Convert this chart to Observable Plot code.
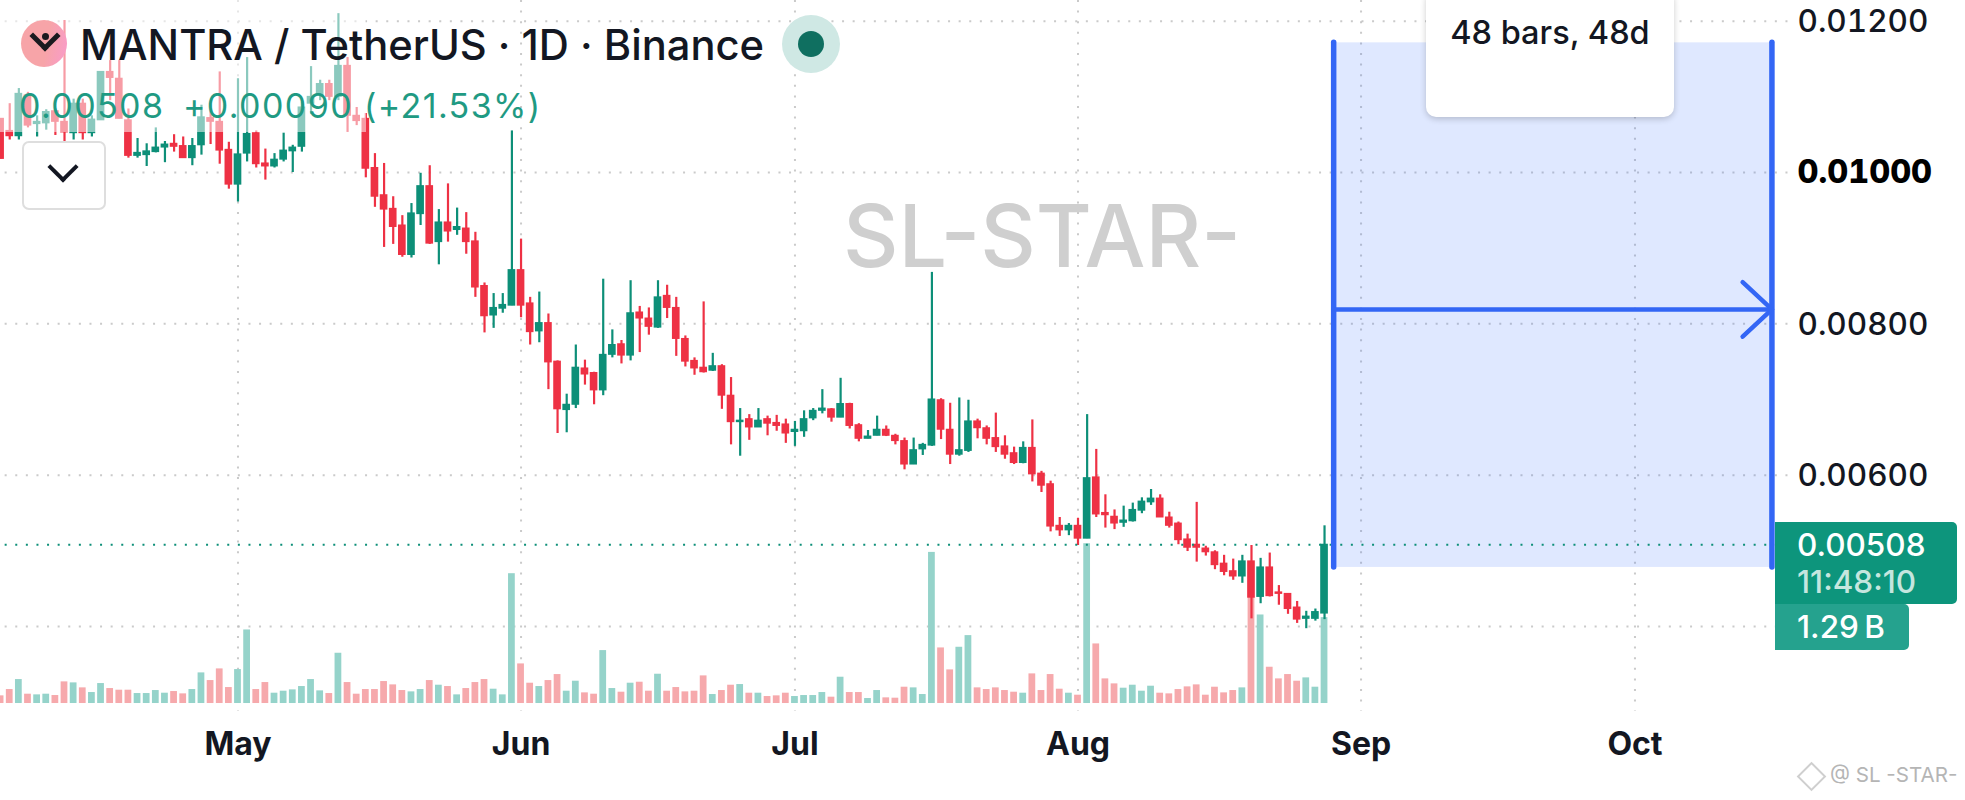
<!DOCTYPE html>
<html>
<head>
<meta charset="utf-8">
<script src="https://cdn.jsdelivr.net/npm/d3@7"></script>
<script src="https://cdn.jsdelivr.net/npm/@observablehq/plot@0.6"></script>
<style>
html,body{margin:0;padding:0;background:#fff}
#stage{position:relative;width:1965px;height:800px;overflow:hidden;font-family:Inter,Roboto,sans-serif;color:#131722}
#stage svg{display:block}
.o{position:absolute;white-space:nowrap}
</style>
</head>
<body>
<div id="stage">
  <div id="chart"></div>
  <div class="o" style="left:0;top:0;width:366px;height:132px;background:rgba(255,255,255,.52)"></div>
  <div class="o" style="left:21px;top:20px;width:46px;height:47px;border-radius:50%;background:linear-gradient(100deg,#f7a4a8 55%,#f99bcb)"></div>
  <div class="o" style="left:34px;top:25px;width:17px;height:17px;border-right:5px solid #1a1a1f;border-bottom:5px solid #1a1a1f;transform:rotate(45deg)"></div>
  <div class="o" style="left:42px;top:33px;width:7px;height:7px;border-radius:50%;background:#1a1a1f"></div>
  <div class="o" style="left:80px;top:21px;font-size:41.7px;line-height:48px;font-weight:500">MANTRA / TetherUS · 1D · Binance</div>
  <div class="o" style="left:782px;top:15px;width:58px;height:58px;border-radius:50%;background:#cfe8e4"></div>
  <div class="o" style="left:798px;top:31px;width:26px;height:26px;border-radius:50%;background:#0f6f60"></div>
  <div class="o" style="left:19px;top:86px;font-size:34px;line-height:40px;font-weight:400;letter-spacing:1.4px;color:#1f9a83">0.00508 &thinsp;+0.00090 (+21.53%)</div>
  <div class="o" style="left:22px;top:141px;width:80px;height:65px;border:2px solid #dedede;border-radius:7px;background:#fff"></div>
  <div class="o" style="left:52px;top:156px;width:18px;height:18px;border-right:4px solid #131722;border-bottom:4px solid #131722;transform:rotate(45deg)"></div>
  <div class="o" style="left:843px;top:190px;font-size:86px;line-height:92px;font-weight:500;color:#cfcfcf">SL-STAR-</div>
  <div class="o" style="left:1426px;top:-10px;width:248px;height:127px;background:#fff;border-radius:10px;box-shadow:0 2px 6px rgba(0,0,0,.2)"></div>
  <div class="o" style="left:1426px;top:15px;width:248px;text-align:center;font-size:32.5px;line-height:36px;font-weight:500">48 bars, 48d</div>
  <div class="o" style="left:1775px;top:522px;width:182px;height:82px;background:#0d957c;border-radius:0 5px 5px 0"></div>
  <div class="o" style="left:1797px;top:526px;font-size:31.5px;line-height:38px;font-weight:500;color:#fff">0.00508</div>
  <div class="o" style="left:1797px;top:563px;font-size:31.5px;line-height:38px;font-weight:500;color:#c5e6df">11:48:10</div>
  <div class="o" style="left:1775px;top:604px;width:134px;height:46px;background:#25a28e;border-radius:0 5px 5px 0"></div>
  <div class="o" style="left:1797px;top:608px;font-size:31.5px;line-height:38px;font-weight:500;color:#fff">1.29&thinsp;B</div>
  <div class="o" style="left:1801px;top:766px;width:17px;height:17px;border:2px solid #cfcfcf;transform:rotate(45deg)"></div>
  <div class="o" style="left:1830px;top:761px;font-size:20.6px;line-height:28px;color:#b5b5b5">@ SL -STAR-</div>
</div>
<script>
// daily candles from 5 Apr to 28 Aug, in units of 0.00001
const firstDay = "2025-04-05";
const openU = [
 1071,1055,1048,1102,1064,1065,1081,1067,1052,1091,1052,1069,1133,1124,1069,1022,1023,1027,1033,1038,1035,1019,1036,1072,1067,1030,
 984,1025,1052,1012,1008,1017,1028,1034,1091,1102,1117,1100,1141,1075,1071,1006,970,952,930,891,945,982,908,934,924,926,909,850,811,820,824,
 871,827,790,801,750,686,693,741,735,712,759,773,758,815,807,795,837,821,780,751,742,738,744,705,670,674,663,674,669,667,
 657,658,675,685,687,676,694,666,648,652,660,652,645,614,634,639,699,660,627,632,671,662,649,638,629,616,636,602,588,533,527,
 533,516,597,550,545,537,539,553,564,569,544,536,515,508,503,498,483,473,466,486,439,478,445,443,425,410,410,417];
const highU = [
 1071,1091,1111,1106,1075,1083,1084,1201,1097,1097,1075,1133,1148,1148,1084,1045,1038,1059,1041,1050,1047,1045,1089,1084,1133,1040,
 1124,1152,1055,1031,1025,1052,1036,1093,1140,1122,1122,1210,1152,1086,1078,1025,1012,968,943,959,999,1009,951,985,953,947,921,854,840,840,1055,
 912,835,842,813,751,707,772,752,736,859,792,778,857,823,821,857,851,835,784,755,829,761,746,729,688,680,688,678,679,674,
 671,685,688,713,688,728,695,668,659,678,665,654,649,649,642,868,701,695,702,699,674,665,682,652,637,644,673,605,592,544,536,
 543,680,634,574,554,559,563,570,581,574,551,538,522,564,506,500,494,489,494,507,490,497,454,443,433,420,423,533];
const lowU = [
 1018,1043,1043,1059,1047,1056,1049,1022,1043,1043,1047,1069,1095,1071,1019,1019,1008,1026,1013,1027,1019,1009,1023,1037,1011,978,
 961,1014,1006,990,1006,1014,1000,1027,1077,1095,1095,1095,1053,1062,993,954,901,905,888,887,930,905,878,908,917,892,835,788,794,814,824,
 808,772,775,713,655,656,688,719,693,705,755,747,751,762,785,794,807,757,743,732,735,737,687,640,625,646,663,652,658,642,
 638,650,672,681,670,676,661,644,648,652,651,640,607,614,626,638,647,614,625,630,648,640,630,621,614,615,591,577,525,519,520,
 507,516,544,530,528,531,538,549,560,544,530,508,499,485,493,475,467,461,457,410,430,439,428,416,404,397,407,409];
const closeU = [
 1018,1048,1104,1062,1067,1080,1067,1053,1091,1052,1070,1133,1125,1071,1022,1026,1028,1033,1037,1034,1019,1035,1073,1067,1029,984,
 1024,1051,1011,1008,1017,1029,1033,1086,1100,1117,1100,1141,1075,1068,1005,968,951,928,891,946,982,906,934,922,928,908,848,810,821,825,871,
 824,789,801,749,687,693,742,733,712,759,772,758,814,807,796,835,821,780,750,741,736,744,705,670,672,663,672,668,665,655,
 660,674,685,688,676,694,665,648,651,660,652,645,614,633,640,700,660,627,633,671,662,648,637,627,616,636,601,586,532,527,533,
 516,596,548,547,536,540,554,565,569,544,533,514,504,504,498,481,472,466,486,438,478,440,443,423,409,413,419,508];
// volume, millions of tokens
const volumeM = [
 115,210,360,140,130,140,120,325,310,235,165,300,225,200,200,150,150,195,155,180,145,210,460,345,520,240,
 510,1105,210,315,155,185,205,255,360,190,150,755,315,140,210,210,330,280,195,175,210,345,275,255,130,225,315,360,215,130,1950,
 595,305,255,345,435,185,335,160,140,795,225,170,305,320,185,440,185,240,175,185,415,135,195,275,285,155,155,105,115,155,
 105,120,120,165,95,395,165,165,75,195,85,80,245,235,135,2270,835,505,845,1020,235,210,235,195,170,155,445,195,435,215,155,
 125,2400,895,370,295,230,275,185,260,155,145,210,250,280,125,245,160,195,235,1595,1330,545,370,435,335,385,245,1290];

const monthTicks = ["2025-05-01","2025-06-01","2025-07-01","2025-08-01","2025-09-01","2025-10-01"].map(d => new Date(d));
const priceTicks = [0.012, 0.008, 0.006];
const boldPriceTick = [0.01];
const gridPrices = [0.012, 0.01, 0.008, 0.006, 0.004];
const lastPrice = [0.00508];
const measureStart = new Date("2025-08-29"), measureEnd = new Date("2025-10-16");
const measureHigh = 0.011714, measureLow = 0.00478, measureMid = 0.00819;
const arrowHeadStart = new Date("2025-10-12T19:00Z"), arrowHeadHigh = 0.00855, arrowHeadLow = 0.00783;
const gridStart = new Date("2025-04-05T12:00Z"), gridEnd = new Date("2025-10-18T06:00Z");
const volumeBase = 0.002981, priceSpanPerMillion = 0.00000088;

const unit = 0.00001, dayMs = 86400000, t0 = +new Date(firstDay);
const bars = openU.map((o, i) => ({
  date: new Date(t0 + i * dayMs),
  open: o * unit, close: closeU[i] * unit, high: highU[i] * unit, low: lowU[i] * unit,
  volume: volumeM[i], up: closeU[i] >= o
}));
const shift = (d, f) => new Date(+d + f * dayMs);
const red = "#ee3144", green = "#0d8f78", redV = "#f6a9ac", greenV = "#95d3ca";
const grid = {stroke: "#bdbdbd", strokeDasharray: "2 8.6", strokeWidth: 2, strokeOpacity: .8};

const chart = Plot.plot({
  width: 1965, height: 800,
  marginTop: 0, marginRight: 0, marginBottom: 0, marginLeft: 0,
  x: {type: "utc", domain: [new Date("2025-04-04T23:45Z"), new Date("2025-11-06T04:48Z")], axis: null},
  y: {type: "linear", domain: [0.001699, 0.012274], axis: null},
  style: {fontFamily: "Inter, Roboto, sans-serif", background: "#fff"},
  marks: [
    Plot.ruleY(gridPrices, {x1: gridStart, x2: gridEnd, ...grid}),
    Plot.ruleX(monthTicks, {y1: 0.012274, y2: 0.00288, ...grid}),
    Plot.rect(bars, {x1: d => shift(d.date, -.37), x2: d => shift(d.date, .37), y1: volumeBase,
      y2: d => volumeBase + d.volume * priceSpanPerMillion, fill: d => d.up ? greenV : redV}),
    Plot.ruleX(bars, {x: "date", y1: "low", y2: "high", stroke: d => d.up ? green : red, strokeWidth: 2.2}),
    Plot.rect(bars, {x1: d => shift(d.date, -.42), x2: d => shift(d.date, .42),
      y1: d => Math.min(d.open, d.close), y2: d => Math.max(d.open, d.close), fill: d => d.up ? green : red, insetTop: -.5, insetBottom: -.5}),
    Plot.rect([0], {x1: measureStart, x2: measureEnd, y1: measureLow, y2: measureHigh, fill: "#2962ff", fillOpacity: .15}),
    Plot.ruleY(lastPrice, {x1: gridStart, x2: gridEnd, stroke: "#0d8f78", strokeDasharray: "2 8.6", strokeWidth: 2}),
    Plot.ruleX([measureStart, measureEnd], {y1: measureLow, y2: measureHigh, stroke: "#3366f5", strokeWidth: 5.5, strokeLinecap: "round"}),
    Plot.line([[measureStart, measureMid], [measureEnd, measureMid]], {stroke: "#3366f5", strokeWidth: 4.5}),
    Plot.line([[arrowHeadStart, arrowHeadHigh], [measureEnd, measureMid], [arrowHeadStart, arrowHeadLow]],
      {stroke: "#3366f5", strokeWidth: 4.5, strokeLinecap: "round", fill: "none"}),
    Plot.axisY({anchor: "right", ticks: priceTicks, tickSize: 0, tickPadding: 0, dx: -168, dy: 1, textAnchor: "start",
      tickFormat: d3.format(".5f"), fontSize: 31.5, fontWeight: 500, fill: "#131722", label: null}),
    Plot.axisY({anchor: "right", ticks: boldPriceTick, tickSize: 0, tickPadding: 0, dx: -168, textAnchor: "start",
      tickFormat: d3.format(".5f"), fontSize: 32.5, fontWeight: 800, fill: "#000", label: null}),
    Plot.axisX({anchor: "bottom", ticks: monthTicks, tickSize: 0, tickPadding: 0, dy: -68, tickFormat: d3.utcFormat("%b"),
      fontSize: 32, fontWeight: 700, fill: "#131722", label: null})
  ]
});
document.getElementById("chart").append(chart);
</script>
</body>
</html>
